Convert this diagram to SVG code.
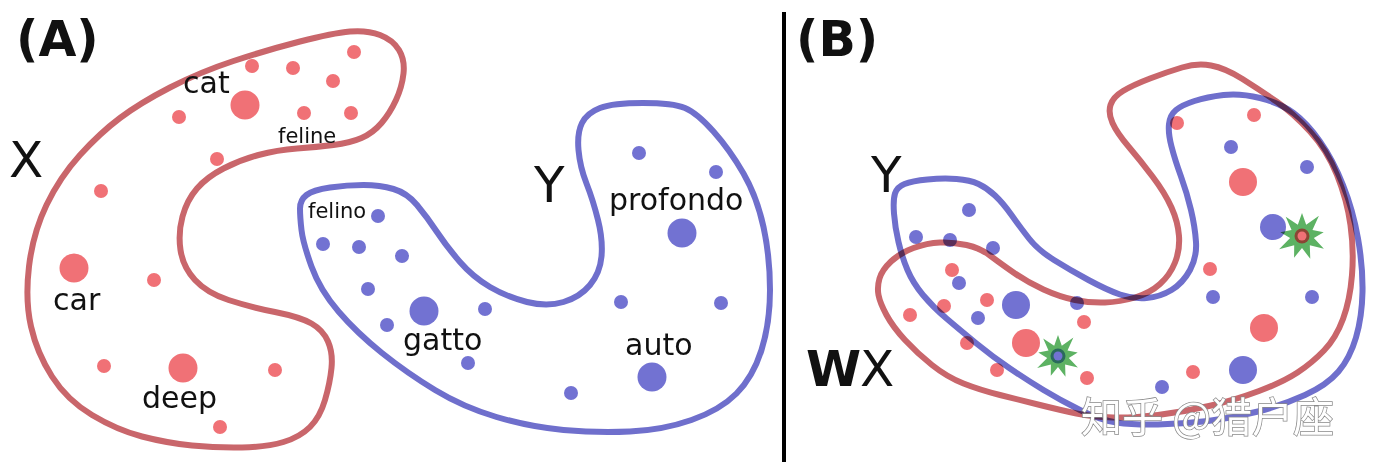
<svg xmlns="http://www.w3.org/2000/svg" width="1378" height="474" viewBox="0 0 1378 474">
<style>
text{font-family:"DejaVu Sans","Liberation Sans",sans-serif;fill:#111}
.lbl{font-size:30px}
.sm{font-size:21px}
.big{font-size:50px}
.pan{font-size:49px;font-weight:bold}
.ro{fill:none;stroke:#c9666b;stroke-width:6;stroke-linejoin:round}
.bo{fill:none;stroke:#6f6fcc;stroke-width:6;stroke-linejoin:round}
.mul{mix-blend-mode:multiply}
.r{fill:#f07176}
.b{fill:#7272d2}
.star{fill:#5db263;mix-blend-mode:multiply}
.wm{font-family:"Noto Sans CJK SC","DejaVu Sans",sans-serif;font-size:41px;fill:#fff;stroke:#8a8a8a;stroke-width:1.5px;paint-order:stroke}
</style>
<defs>
<polygon id="starshape" points="0,-21 3.8,-10.3 15.4,-18.4 9.5,-5.5 19.7,-3.5 10.8,1.9 19.9,11.5 7.1,8.4 7.5,20.7 0,11 -7.2,19.7 -7.1,8.4 -20.8,12 -10.8,1.9 -19.7,-3.5 -9.5,-5.5 -14.8,-17.6 -3.8,-10.3"/>
</defs>
<rect width="1378" height="474" fill="#fff"/>

<g id="panelA">
<text class="pan" x="16" y="56">(A)</text>
<g id="A-X">
<path class="ro" d="M170,87.5 Q200,72 233.5,61 Q267,50 300,41.5 Q333,33 350,31.5 Q367,30 380,35 Q393,40 399,50 Q405,60 403.5,73.5 Q402,87 396,100 Q390,113 381.5,123 Q373,133 361.5,138 Q350,143 333.5,145 Q317,147 297,148.5 Q277,150 258.5,155 Q240,160 223.5,168.5 Q207,177 197,188.5 Q187,200 182.5,216.5 Q178,233 180.5,250 Q183,267 195,280 Q207,293 228.5,300 Q250,307 275,312 Q300,317 311.5,323.5 Q323,330 328,341.5 Q333,353 331.5,368 Q330,383 325,400 Q320,417 310,427 Q300,437 283.5,442 Q267,447 242,447.5 Q217,448 192,445.5 Q167,443 142,436.5 Q117,430 92,415 Q67,400 52,376.5 Q37,353 31,326.5 Q25,300 29,266.5 Q33,233 46.5,205 Q60,177 80,155 Q100,133 120,118 Q140,103 170,87.5 Z"/>
<g class="r">
<circle cx="252" cy="66" r="7"/><circle cx="293" cy="68" r="7"/><circle cx="354" cy="52" r="7"/><circle cx="333" cy="81" r="7"/>
<circle cx="245" cy="105" r="14.5"/><circle cx="179" cy="117" r="7"/><circle cx="304" cy="113" r="7"/><circle cx="351" cy="113" r="7"/>
<circle cx="217" cy="159" r="7"/><circle cx="101" cy="191" r="7"/><circle cx="74" cy="268" r="14.5"/><circle cx="154" cy="280" r="7"/>
<circle cx="104" cy="366" r="7"/><circle cx="183" cy="368" r="14.5"/><circle cx="275" cy="370" r="7"/><circle cx="220" cy="427" r="7"/>
</g>
<text class="big" x="9" y="177">X</text>
<text class="lbl" x="183" y="93">cat</text>
<text class="sm" x="278" y="143">feline</text>
<text class="lbl" x="53" y="310">car</text>
<text class="lbl" x="142" y="408">deep</text>
</g>
<g id="A-Y">
<path class="bo" d="M300,208.5 Q300,200 306.5,195 Q313,190 330,187.5 Q347,185 363.5,185 Q380,185 393.5,189 Q407,193 417,205 Q427,217 437,232 Q447,247 460,262 Q473,277 490,287 Q507,297 527,302 Q547,307 563.5,302 Q580,297 590,285 Q600,273 601.5,256.5 Q603,240 598,220 Q593,200 586.5,183.5 Q580,167 578.5,150 Q577,133 582,123 Q587,113 600,108 Q613,103 643,103 Q673,103 685,108 Q697,113 713.5,131.5 Q730,150 743.5,173.5 Q757,197 763.5,227 Q770,257 770,290 Q770,323 761.5,350 Q753,377 736.5,393.5 Q720,410 691.5,420 Q663,430 630,431.5 Q597,433 563.5,430 Q530,427 496.5,417 Q463,407 435,390 Q407,373 382,353 Q357,333 338.5,311.5 Q320,290 311.5,266.5 Q303,243 301.5,230 Q300,217 300,208.5 Z"/>
<g class="b">
<circle cx="378" cy="216" r="7"/><circle cx="323" cy="244" r="7"/><circle cx="359" cy="247" r="7"/><circle cx="402" cy="256" r="7"/>
<circle cx="368" cy="289" r="7"/><circle cx="424" cy="311" r="14.5"/><circle cx="485" cy="309" r="7"/><circle cx="387" cy="325" r="7"/>
<circle cx="468" cy="363" r="7"/><circle cx="639" cy="153" r="7"/><circle cx="716" cy="172" r="7"/><circle cx="682" cy="233" r="14.5"/>
<circle cx="621" cy="302" r="7"/><circle cx="721" cy="303" r="7"/><circle cx="652" cy="377" r="14.5"/><circle cx="571" cy="393" r="7"/>
</g>
<text class="sm" x="308" y="218">felino</text>
<text class="big" x="534" y="202">Y</text>
<text class="lbl" x="609" y="210">profondo</text>
<text class="lbl" x="403" y="350">gatto</text>
<text class="lbl" x="625" y="355">auto</text>
</g>
</g>

<g id="divider">
<line x1="784" y1="12" x2="784" y2="462" stroke="#000" stroke-width="4"/>
</g>

<g id="panelB">
<text class="pan" x="796" y="56">(B)</text>
<g id="B-dots">
<g class="r">
<circle cx="952" cy="270" r="7"/><circle cx="987" cy="300" r="7"/><circle cx="910" cy="315" r="7"/><circle cx="944" cy="306" r="7"/>
<circle cx="967" cy="343" r="7"/><circle cx="1026" cy="343" r="14"/><circle cx="1084" cy="322" r="7"/><circle cx="997" cy="370" r="7"/>
<circle cx="1087" cy="378" r="7"/><circle cx="1177" cy="123" r="7"/><circle cx="1254" cy="115" r="7"/><circle cx="1243" cy="182" r="14"/>
<circle cx="1210" cy="269" r="7"/><circle cx="1264" cy="328" r="14"/><circle cx="1193" cy="372" r="7"/>
</g>
<g class="b">
<circle cx="969" cy="210" r="7"/><circle cx="916" cy="237" r="7"/><circle cx="950" cy="240" r="7"/><circle cx="993" cy="248" r="7"/>
<circle cx="959" cy="283" r="7"/><circle cx="1016" cy="305" r="14"/><circle cx="978" cy="318" r="7"/><circle cx="1077" cy="303" r="7"/>
<circle cx="1231" cy="147" r="7"/><circle cx="1307" cy="167" r="7"/><circle cx="1273" cy="227" r="13"/><circle cx="1213" cy="297" r="7"/>
<circle cx="1312" cy="297" r="7"/><circle cx="1243" cy="370" r="14"/><circle cx="1162" cy="387" r="7"/>
</g>
</g>
<g id="B-WX">
<path class="ro mul" d="M878.5,295 Q877,287 879.5,278.5 Q882,270 891,261.5 Q900,253 913.5,248 Q927,243 940,242.5 Q953,242 966.5,245 Q980,248 990,255.5 Q1000,263 1013.5,272.5 Q1027,282 1043.5,289.5 Q1060,297 1075,300 Q1090,303 1105,302.5 Q1120,302 1135,297.5 Q1150,293 1160,284 Q1170,275 1175,262.5 Q1180,250 1179,236 Q1178,222 1171.5,207.5 Q1165,193 1152.5,176.5 Q1140,160 1128.5,146.5 Q1117,133 1112.5,123 Q1108,113 1110.5,105 Q1113,97 1123,91 Q1133,85 1150,78.5 Q1167,72 1182,67.5 Q1197,63 1211,65.5 Q1225,68 1242.5,79 Q1260,90 1276.5,101.5 Q1293,113 1310,131.5 Q1327,150 1337,175 Q1347,200 1350.5,225 Q1354,250 1352,275 Q1350,300 1343,319 Q1336,338 1324,350.5 Q1312,363 1297.5,372.5 Q1283,382 1259,391 Q1235,400 1209,406 Q1183,412 1158,415 Q1133,418 1113,417.5 Q1093,417 1076.5,413.5 Q1060,410 1040,405 Q1020,400 1000,395 Q980,390 963.5,383.5 Q947,377 932,365 Q917,353 905,340 Q893,327 886.5,315 Q880,303 878.5,295 Z"/>
<text class="big" x="806" y="386"><tspan font-weight="bold">W</tspan><tspan x="860">X</tspan></text>
</g>
<g id="B-Y">
<path class="bo mul" d="M894,213.5 Q893,200 895,193.5 Q897,187 904.5,184 Q912,181 927.5,179.5 Q943,178 956.5,179 Q970,180 978.5,184 Q987,188 995,195.5 Q1003,203 1011.5,215 Q1020,227 1029,238.5 Q1038,250 1054,260 Q1070,270 1088.5,280 Q1107,290 1120,294.5 Q1133,299 1146.5,298 Q1160,297 1171.5,290 Q1183,283 1190,270 Q1197,257 1196,242 Q1195,227 1191,210 Q1187,193 1181,176.5 Q1175,160 1171.5,146.5 Q1168,133 1169,124 Q1170,115 1176,110 Q1182,105 1194.5,101 Q1207,97 1223.5,95 Q1240,93 1260,98 Q1280,103 1293.5,113 Q1307,123 1320,141.5 Q1333,160 1343,185 Q1353,210 1358,238.5 Q1363,267 1362.5,292 Q1362,317 1356,337.5 Q1350,358 1338.5,371.5 Q1327,385 1305,395 Q1283,405 1258,411.5 Q1233,418 1208,421 Q1183,424 1158,424.5 Q1133,425 1116.5,422.5 Q1100,420 1080,410 Q1060,400 1043.5,390 Q1027,380 1010,368.5 Q993,357 976.5,343.5 Q960,330 946.5,318.5 Q933,307 923,295 Q913,283 907.5,270 Q902,257 898.5,242 Q895,227 894,213.5 Z"/>
<text class="big" x="871" y="192">Y</text>
</g>
<g id="star1">
<use href="#starshape" class="star" transform="translate(1058,356)"/>
<circle cx="1058" cy="356" r="7.5" fill="#2a6a5c"/>
<circle cx="1058" cy="356" r="4.5" fill="#7272d2"/>
</g>
<g id="star2">
<use href="#starshape" class="star" transform="translate(1302,236) scale(1.1)"/>
<circle cx="1302" cy="236" r="7.5" fill="#8a4634"/>
<circle cx="1302" cy="236" r="4.5" fill="#f07176"/>
</g>
</g>

<text class="wm" x="1081" y="432">知乎 @猎户座</text>
</svg>
